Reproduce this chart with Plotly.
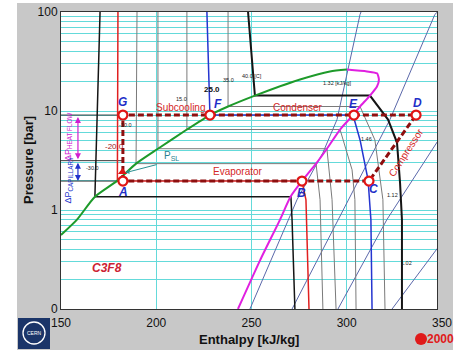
import numpy as np
import plotly.graph_objects as go

# ---------------- data (enthalpy kJ/kg, pressure bar) ----------------
liquid_h = [150.0, 158.4, 167.8, 179.6, 189.4, 200.9, 216.1, 228.2, 237.7, 251.8, 275.5, 291.2, 300.1]
liquid_p = [0.56, 0.80, 1.36, 1.98, 2.94, 4.16, 6.5, 9.1, 11.1, 14.3, 20.8, 25.1, 26.2]
vapour_h = [242.9, 254.5, 265.0, 270.5, 276.5, 283.9, 289.6, 296.5, 303.3, 307.0, 312.2, 315.9, 316.9, 315.9, 310.6, 300.1]
vapour_p = [0.10, 0.31, 0.80, 1.36, 1.96, 2.94, 4.16, 6.5, 9.1, 11.1, 14.3, 17.7, 20.8, 24.0, 25.1, 26.2]

iso_p_sat = [1.36, 1.96, 2.94, 4.16, 6.5, 9.1, 11.1, 14.3]
iso_h_liq_top = [170.5, 179.9, 189.9, 200.9, 216.1, 226.6, 237.7, 248.2]
iso_h_liq_sat = [167.8, 179.6, 189.4, 200.9, 216.1, 228.2, 237.7, 251.8]
iso_vap_h = [
    [270.7, 271.3, 272.8],
    [276.5, 278.6, 280.2],
    [283.9, 286.0, 287.5],
    [289.6, 292.3, 294.4],
    [296.5, 302.8, 304.3, 304.9],
    [303.3, 307.0, 311.2, 312.7, 313.3],
    [307.0, 314.8, 319.0, 320.1],
    [312.2, 321.7, 326.4, 328.0, 329.0, 329.0],
]
iso_vap_p = [
    [1.36, 0.80, 0.10],
    [1.96, 1.27, 0.10],
    [2.94, 1.27, 0.10],
    [4.16, 1.27, 0.10],
    [6.5, 2.55, 1.27, 0.10],
    [9.1, 5.1, 2.02, 0.80, 0.10],
    [11.1, 5.1, 1.27, 0.10],
    [14.3, 8.2, 4.8, 1.88, 0.80, 0.10],
]
iso_colors = ["#151515", "#e02020", "#7a7a7a", "#7a7a7a", "#7a7a7a", "#2535d0", "#7a7a7a", "#151515"]
iso_widths = [1.5, 1.5, 1, 1, 1, 1.5, 1, 2]

iso_text = ["-30.0", "-20.0", "-10.0", "15.0", "25.0", "35.0", "40.0 [C]"]
iso_text_h = [166.3, 178.3, 183.6, 213.5, 229.3, 237.7, 250.3]
iso_text_p = [2.67, 4.36, 7.3, 13.2, 16.5, 20.8, 22.8]

isen_h = [[249.2, 273.9, 287.5, 294.9, 307.0, 307.5],
          [271.3, 300.7, 322.7, 346.3, 347.6],
          [295.4, 321.1, 347.6],
          [323.8, 347.6]]
isen_p = [[0.10, 1.27, 3.79, 8.2, 94.6, 100.0],
          [0.10, 1.27, 8.2, 94.6, 100.0],
          [0.10, 0.80, 4.9],
          [0.10, 0.41]]
isen_text = ["1.32 [kJ/kg]", "1.46", "1.12", "1.02"]
isen_text_h = [295.4, 310.6, 323.8, 331.6]
isen_text_p = [19.4, 5.25, 1.43, 0.29]

pt_names = ["G", "F", "E", "D", "A", "B", "C"]
pt_h = [182.5, 228.2, 303.8, 336.4, 182.5, 276.5, 311.7]
pt_p = [9.1, 9.1, 9.1, 9.1, 1.96, 1.96, 1.96]
pt_lab_h = [182.5, 232.4, 303.8, 337.4, 182.5, 276.5, 314.3]
pt_lab_p = [12.2, 11.9, 11.7, 12.0, 1.53, 1.49, 1.64]

cycle_order = ["A", "G", "D", "C", "A"]
bracket_p = [9.1, 3.15, 1.96]

x_ticks = [150, 200, 250, 300]
y_ticks = [0.1, 1, 10, 100]
y_tick_text = ["0", "1", "10", "100"]

# ---------------- figure ----------------
W, H = 474, 356
ML, MR, MT, MB = 61, 37, 12, 47
PW, PH = W - ML - MR, H - MT - MB


def px(xp):
    return (xp - ML) / PW


def py(yp):
    return (H - MB - yp) / PH


fig = go.Figure()

for hs, ps in zip(isen_h, isen_p):
    fig.add_trace(go.Scatter(x=hs, y=ps, mode="lines",
                             line=dict(color="#5b68aa", width=1), hoverinfo="skip"))

for hp in bracket_p:
    fig.add_trace(go.Scatter(x=[150, 182.5], y=[hp, hp], mode="lines",
                             line=dict(color="#3a3a3a", width=1), hoverinfo="skip"))

for i in range(len(iso_p_sat)):
    xs = [iso_h_liq_top[i], iso_h_liq_sat[i]] + iso_vap_h[i]
    ys = [100.0, iso_p_sat[i]] + iso_vap_p[i]
    fig.add_trace(go.Scatter(x=xs, y=ys, mode="lines",
                             line=dict(color=iso_colors[i], width=iso_widths[i]), hoverinfo="skip"))

fig.add_trace(go.Scatter(x=liquid_h, y=liquid_p, mode="lines",
                         line=dict(color="#1e9a2a", width=2, shape="spline", smoothing=0.6)))
fig.add_trace(go.Scatter(x=vapour_h, y=vapour_p, mode="lines",
                         line=dict(color="#e020e0", width=2, shape="spline", smoothing=0.6)))

idx = {n: i for i, n in enumerate(pt_names)}
fig.add_trace(go.Scatter(x=[pt_h[idx[n]] for n in cycle_order],
                         y=[pt_p[idx[n]] for n in cycle_order], mode="lines",
                         line=dict(color="#8e0f0f", width=3, dash="6px,3px")))
fig.add_trace(go.Scatter(x=pt_h, y=pt_p, mode="markers",
                         marker=dict(symbol="circle", size=9, color="white",
                                     line=dict(color="#e01515", width=2.2))))
fig.add_trace(go.Scatter(x=[182.3], y=[2.42], mode="markers",
                         marker=dict(symbol="triangle-up", size=8, color="#e01515")))

ann = []
LF = "Arial, Liberation Sans, sans-serif"
for n, h, p in zip(pt_names, pt_lab_h, pt_lab_p):
    ann.append(dict(x=h, y=np.log10(p), xref="x", yref="y", text="<b><i>%s</i></b>" % n,
                    showarrow=False, font=dict(family=LF, size=12, color="#1f2fc8")))
for t, h, p in zip(iso_text, iso_text_h, iso_text_p):
    if t == "-20.0":
        f = dict(family=LF, size=8, color="#a01818")
        tt = t
    elif t == "25.0":
        f = dict(family=LF, size=8, color="#111111")
        tt = "<b>%s</b>" % t
    else:
        f = dict(family=LF, size=5.5, color="#222222")
        tt = t
    ann.append(dict(x=h, y=np.log10(p), xref="x", yref="y", text=tt, showarrow=False, font=f))
for t, h, p in zip(isen_text, isen_text_h, isen_text_p):
    ann.append(dict(x=h, y=np.log10(p), xref="x", yref="y", text=t, showarrow=False,
                    font=dict(family=LF, size=5.5, color="#222222")))

red = "#d42626"
for t, h, p, ang in [("Subcooling", 212.5, 10.9, 0), ("Condenser", 274.4, 10.9, 0),
                     ("Evaporator", 242.9, 2.44, 0), ("Compressor", 331.0, 3.85, -57)]:
    ann.append(dict(x=h, y=np.log10(p), xref="x", yref="y", text=t, showarrow=False,
                    textangle=ang, font=dict(family=LF, size=10, color=red)))

ann.append(dict(x=174.1, y=np.log10(0.26), xref="x", yref="y", text="<b><i>C3F8</i></b>",
                showarrow=False, font=dict(family=LF, size=12, color="#cc2233")))

# Delta P arrows and labels
ann.append(dict(x=158.9, y=np.log10(3.25), ax=158.9, ay=np.log10(9.0), xref="x", yref="y",
                axref="x", ayref="y", showarrow=True, arrowhead=2, arrowside="end+start",
                arrowsize=1, arrowwidth=1.2, arrowcolor="#d020d0", text=""))
ann.append(dict(x=158.9, y=np.log10(1.96), ax=158.9, ay=np.log10(3.1), xref="x", yref="y",
                axref="x", ayref="y", showarrow=True, arrowhead=2, arrowside="end+start",
                arrowsize=1, arrowwidth=1.2, arrowcolor="#2233cc", text=""))
ann.append(dict(x=153.8, y=np.log10(5.5), xref="x", yref="y", textangle=-90, showarrow=False,
                text="ΔP<sub>HEAT FLOW</sub>", font=dict(family=LF, size=9, color="#d020d0")))
ann.append(dict(x=153.8, y=np.log10(2.0), xref="x", yref="y", textangle=-90, showarrow=False,
                text="ΔP<sub>CAPILLARY</sub>", font=dict(family=LF, size=9, color="#2233cc")))
ann.append(dict(x=183.8, y=np.log10(2.38), ax=201.0, ay=np.log10(2.9), xref="x", yref="y",
                axref="x", ayref="y", showarrow=True, arrowhead=2, arrowsize=0.8,
                arrowwidth=1, arrowcolor="#2a9090", text=""))
ann.append(dict(x=208.0, y=np.log10(3.55), xref="x", yref="y", showarrow=False,
                text="P<sub>SL</sub>", font=dict(family=LF, size=10, color="#2a7f8f")))

# axis titles, extra x tick label beyond the right border, logo texts
C = dict(xref="paper", yref="paper", xanchor="center", yanchor="middle", showarrow=False)
ann.append(dict(x=px(249), y=py(339), text="<b>Enthalpy [kJ/kg]</b>",
                font=dict(family=LF, size=13, color="#111"), **C))
ann.append(dict(x=px(28), y=py(160), text="<b>Pressure [bar]</b>", textangle=-90,
                font=dict(family=LF, size=13, color="#111"), **C))
ann.append(dict(x=px(442), y=py(323), text="350",
                font=dict(family=LF, size=12, color="#111"), **C))
ann.append(dict(x=px(440), y=py(339), text="<b>2000</b>",
                font=dict(family=LF, size=12, color="#e01a1a"), **C))
ann.append(dict(x=px(34), y=py(333), text="CERN",
                font=dict(family=LF, size=5, color="white"), **C))

shapes = [
    dict(type="rect", xref="paper", yref="paper", x0=px(17), x1=px(453), y0=py(350), y1=py(3),
         fillcolor="#c8c8c8", line=dict(width=0), layer="below"),
    dict(type="rect", xref="paper", yref="paper", x0=0, x1=1, y0=0, y1=1,
         fillcolor="white", line=dict(width=0), layer="below"),
    dict(type="rect", xref="paper", yref="paper", x0=px(18), x1=px(50), y0=py(349), y1=py(318),
         fillcolor="#1b3569", line=dict(width=0), layer="above"),
    dict(type="circle", xref="paper", yref="paper", x0=px(23), x1=px(45), y0=py(344), y1=py(322),
         line=dict(color="white", width=1.3), layer="above"),
    dict(type="circle", xref="paper", yref="paper", x0=px(415), x1=px(427), y0=py(345), y1=py(333),
         fillcolor="#e01a1a", line=dict(width=0), layer="above"),
]

grid_vals = [m * 10.0 ** e for e in (-1, 0, 1) for m in range(1, 10)] + [100.0]
grid_text = [y_tick_text[y_ticks.index(v)] if v in y_ticks else "" for v in
             [round(g, 6) for g in grid_vals]]

fig.update_layout(
    width=W, height=H, margin=dict(l=ML, r=MR, t=MT, b=MB, autoexpand=False),
    paper_bgcolor="white", plot_bgcolor="white", showlegend=False, hovermode=False,
    annotations=ann, shapes=shapes,
    font=dict(family=LF, color="#111"),
    xaxis=dict(range=[150, 347.4], tickvals=x_ticks, ticktext=[str(v) for v in x_ticks],
               showgrid=True, gridcolor="#64dada", gridwidth=1, zeroline=False, automargin=False,
               showline=True, mirror=True, linecolor="#333", linewidth=1, ticklabelstandoff=3,
               tickfont=dict(size=12, family=LF, color="#111")),
    yaxis=dict(type="log", range=[-1, 2], tickvals=grid_vals, ticktext=grid_text, automargin=False,
               showgrid=True, gridcolor="#64dada", gridwidth=1, zeroline=False,
               showline=True, mirror=True, linecolor="#333", linewidth=1,
               tickfont=dict(size=12, family=LF, color="#111")),
)

fig.write_html("out.html", config={"displayModeBar": False},
               post_script="document.body.style.margin='0';")
